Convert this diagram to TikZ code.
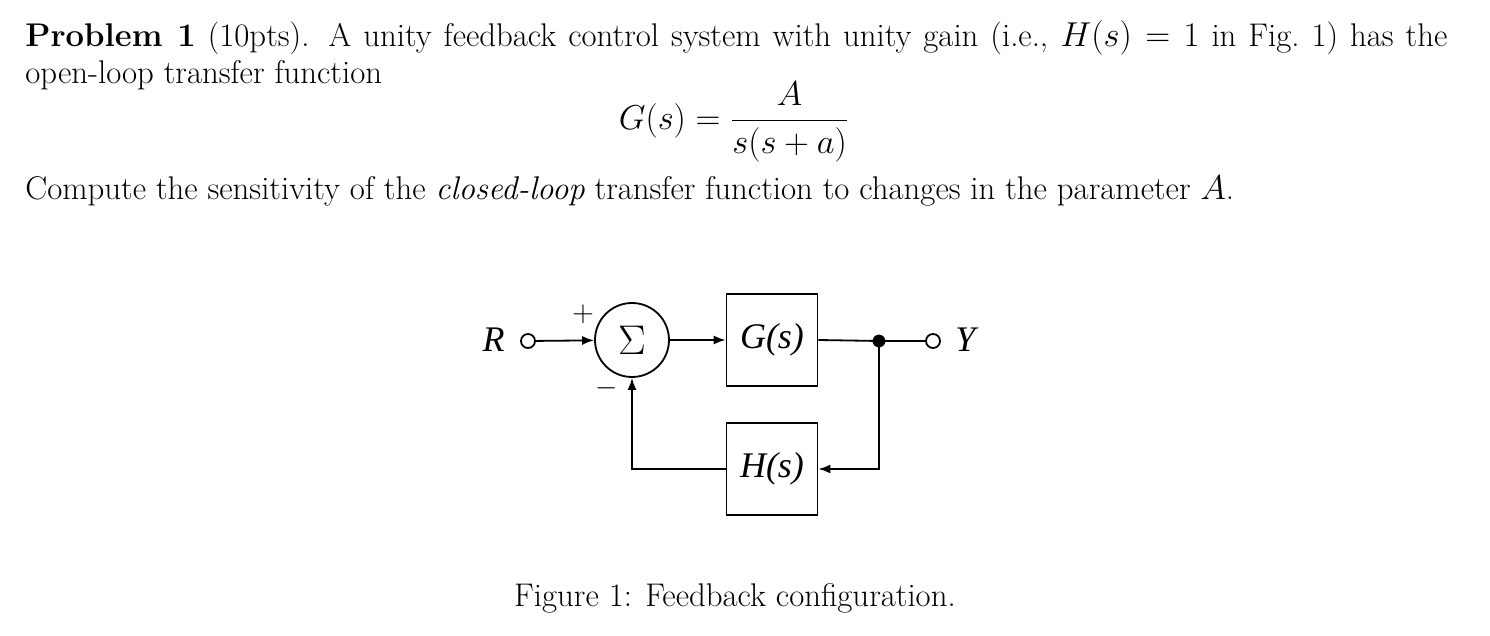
\documentclass[tikz,border=0pt]{standalone}
\usepackage{fontspec}
\setmainfont{Latin Modern Roman}
\newfontfamily\tms{Liberation Serif}
\usetikzlibrary{arrows.meta}
\begin{document}
\begin{tikzpicture}[x=0.5pt,y=-0.5pt,
  blk/.style={draw,line width=0.9pt,minimum width=45.5pt,minimum height=46pt,inner sep=0pt,font=\tms\fontsize{18}{20}\selectfont\itshape},
  ln/.style={line width=0.9pt},
  arr/.style={ln,-{Latex[length=6pt,width=4.5pt]}},
  port/.style={circle,draw,line width=0.9pt,minimum size=7pt,inner sep=0pt,fill=white},
  lbl/.style={font=\tms\fontsize{18}{20}\selectfont\itshape}]
\useasboundingbox (0,0) rectangle (1490,636);
\fontsize{16.4}{18.5}\selectfont
\node[anchor=north west,inner sep=0pt,text width=711pt,align=justify] (p) at (25,20)
 {\textbf{Problem 1} (10pts). A unity feedback control system with unity gain (i.e., $H(s)=1$ in Fig.~1) has the open-loop transfer function};
\node[inner sep=0pt] (eq) at (734,122) {$\displaystyle G(s)=\frac{A}{s(s+a)}$};
\node[anchor=base west,inner sep=0pt] (c) at (25,200) {Compute the sensitivity of the \emph{closed-loop} transfer function to changes in the parameter $A$.};
\node[anchor=base,inner sep=0pt] (cap) at (735,606) {Figure 1: Feedback configuration.};
% diagram
\node[port] (r) at (528,341) {};
\node[lbl,anchor=east] (rl) at (516,340) {R};
\node[circle,draw,line width=0.9pt,minimum size=37pt,inner sep=0pt,font=\tms\fontsize{22}{24}\selectfont] (sum) at (632,340) {$\Sigma$};
\node[blk] (g) at (772,340) {G(s)};
\node[blk] (h) at (772,469) {H(s)};
\coordinate (j) at (879,341);
\node[port] (y) at (933,341) {};
\node[lbl,anchor=west] (yl) at (944,340) {Y};
\node[font=\fontsize{14}{16}\selectfont] (plus) at (583,314) {$+$};
\node[font=\fontsize{14}{16}\selectfont] (minus) at (607,388) {$-$};
\draw[arr] (r) -- (sum);
\draw[arr] (sum) -- (g);
\draw[ln] (g.east) -- (j) -- (y);
\fill (j) circle (3.2pt);
\draw[arr] (j) |- (h.east);
\draw[arr] (h.west) -| (sum.south);
\end{tikzpicture}
\end{document}
